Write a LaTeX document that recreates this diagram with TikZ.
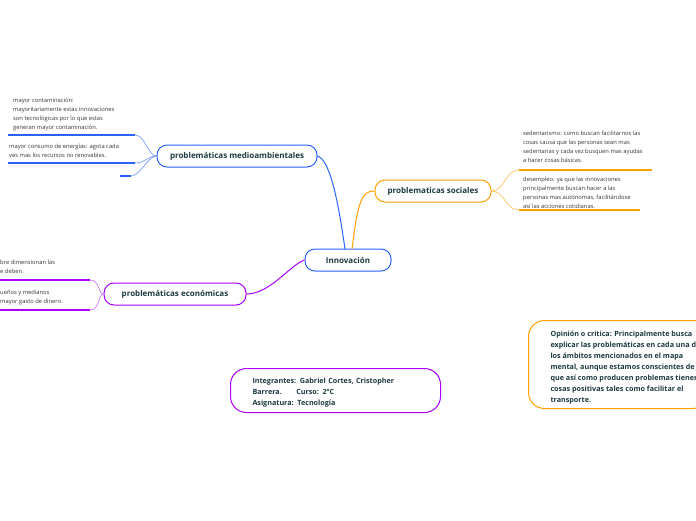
\documentclass[tikz,border=0pt]{standalone}
\usepackage{fontspec}
\setmainfont{Open Sans}
\definecolor{cblue}{HTML}{2962FF}
\definecolor{corange}{HTML}{FFA000}
\definecolor{cpurple}{HTML}{AA00FF}
\definecolor{ctext}{HTML}{1B3A40}
\definecolor{cleaf}{HTML}{333333}
\begin{document}
\begin{tikzpicture}[x=1pt,y=-1pt,
  topic/.style={draw,line width=1pt,rounded corners=10pt,fill=white,minimum height=22pt,font=\bfseries\fontsize{8}{10}\selectfont,text=ctext},
  leaf/.style={font=\fontsize{5.8}{9}\selectfont,text=cleaf,align=left,anchor=north west,inner sep=0pt},
  box/.style={draw,line width=1pt,rounded corners=16pt,fill=white,font=\bfseries\fontsize{7.2}{11}\selectfont,text=ctext,align=left,anchor=north west,inner sep=0pt}]
\useasboundingbox (0,0) rectangle (696,520);
\clip (0,0) rectangle (696,520);
% leaves medio
\coordinate (m1a) at (8,135); \coordinate (m1b) at (135,135);
\coordinate (m2a) at (8,163); \coordinate (m2b) at (135,163);
\coordinate (m3a) at (120,176); \coordinate (m3b) at (131,176);
\draw[cblue,line width=1.2pt] (m1a)--(m1b); \draw[cblue,line width=1.2pt] (m2a)--(m2b); \draw[cblue,line width=1.2pt] (m3a)--(m3b);
\node[leaf] at (13,98) {mayor contaminación:\\mayoritariamente estas innovaciones\\son tecnológicas por lo que estas\\generan mayor contaminación.};
\node[leaf] at (9,144) {mayor consumo de energías: agota cada\\ves mas los recursos no renovables.};
% leaves sociales
\coordinate (s1a) at (519,170); \coordinate (s1b) at (652,170);
\coordinate (s2a) at (519,210); \coordinate (s2b) at (640,210);
\draw[corange,line width=1.2pt] (s1a)--(s1b); \draw[corange,line width=1.2pt] (s2a)--(s2b);
\node[leaf] at (523,131) {sedentarismo: como buscan facilitarnos las\\cosas causa que las personas sean mas\\sedentarias y cada vez busquen mas ayudas\\a hacer cosas básicas.};
\node[leaf] at (523,177) {desempleo: ya que las innovaciones\\principalmente buscan hacer a las\\personas mas autónomas, facilitándose\\así las acciones cotidianas.};
% leaves economicas
\coordinate (e1a) at (0,280); \coordinate (e1b) at (90,280);
\coordinate (e2a) at (0,310); \coordinate (e2b) at (90,310);
\draw[cpurple,line width=1.2pt] (e1a)--(e1b); \draw[cpurple,line width=1.2pt] (e2a)--(e2b);
\node[leaf] at (0,260) {bre dimensionan las\\e deben.};
\node[leaf] at (0,290) {ueños y medianos\\ mayor gasto de dinero.};
% topics
\node[topic,draw=cblue,minimum width=160pt] (med) at (237,156) {problemáticas medioambientales};
\node[topic,draw=corange,minimum width=116pt] (soc) at (433,191) {problematicas sociales};
\node[topic,draw=cpurple,minimum width=142pt] (eco) at (175,294) {problemáticas económicas};
\node[topic,draw=cblue,minimum width=86pt] (inn) at (348,260) {Innovación};
% branches
\draw[cblue!70,line width=0.6pt] (med.west) .. controls (148,156) and (145,135) .. (m1b);
\draw[cblue!70,line width=0.6pt] (med.west) .. controls (148,156) and (145,163) .. (m2b);
\draw[cblue!70,line width=0.6pt] (med.west) .. controls (148,156) and (140,176) .. (m3b);
\draw[corange!70,line width=0.6pt] (soc.east) .. controls (505,191) and (505,170) .. (s1a);
\draw[corange!70,line width=0.6pt] (soc.east) .. controls (505,191) and (505,210) .. (s2a);
\draw[cpurple!60,line width=0.6pt] (eco.west) .. controls (98,294) and (100,280) .. (e1b);
\draw[cpurple!60,line width=0.6pt] (eco.west) .. controls (98,294) and (100,310) .. (e2b);
\draw[cblue,line width=1pt] (345,249) .. controls (338,200) and (330,160) .. (med.east);
\draw[corange,line width=1pt] (352,249) .. controls (358,200) and (362,191) .. (soc.west);
\draw[cpurple,line width=1pt] (inn.west) .. controls (290,265) and (270,294) .. (eco.east);
% boxes
\node[box,draw=cpurple,minimum width=210pt,minimum height=44pt,text width=200pt] (int) at (230,368) {\hspace*{17pt}\begin{tabular}{@{}l@{}}\\[-8pt]Integrantes: Gabriel Cortes, Cristopher\\Barrera.\qquad Curso: 2°C\\Asignatura: Tecnología\end{tabular}};
\node[box,draw=corange,minimum width=180pt,minimum height=88pt] (op) at (528,320) {\hspace*{14pt}\begin{tabular}{@{}l@{}}\\[-6pt]Opinión o critica: Principalmente busca\\explicar las problemáticas en cada una de\\los ámbitos mencionados en el mapa\\mental, aunque estamos conscientes de\\que así como producen problemas tienen\\cosas positivas tales como facilitar el\\transporte.\end{tabular}};
\end{tikzpicture}
\end{document}
